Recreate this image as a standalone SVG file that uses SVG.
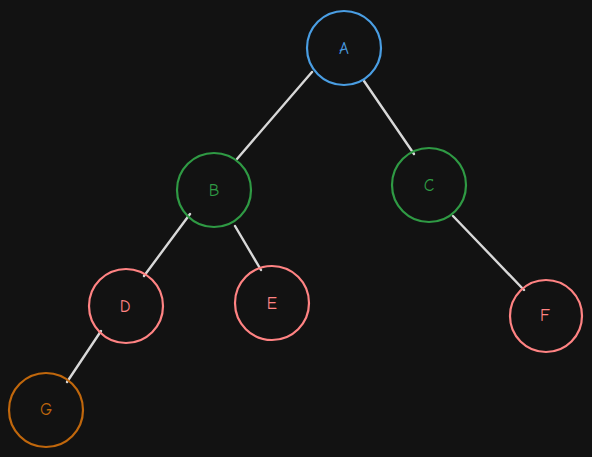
<svg xmlns="http://www.w3.org/2000/svg" width="592" height="457" viewBox="0 0 592 457">
<style>
.n{fill:none;stroke-width:2.2}
.t{font-family:"Comic Neue","Liberation Sans",sans-serif;font-size:17px;text-anchor:middle;dominant-baseline:central}
.e{stroke:#d8d8d8;stroke-width:2.4;stroke-linecap:round;fill:none}
</style>
<rect width="592" height="457" fill="#121212"/>
<g id="edges">
<line class="e" x1="312" y1="72" x2="237" y2="159"/>
<line class="e" x1="364" y1="81" x2="414" y2="154"/>
<line class="e" x1="190" y1="214" x2="144" y2="276"/>
<line class="e" x1="235" y1="226" x2="261" y2="270"/>
<line class="e" x1="453" y1="216" x2="524" y2="290"/>
<line class="e" x1="101" y1="331" x2="67" y2="382"/>
</g>
<g id="A"><circle class="n" cx="344" cy="48" r="37" stroke="#4a9ee3"/><text class="t" x="344" y="48" fill="#4a9ee3">A</text></g>
<g id="B"><circle class="n" cx="214" cy="190" r="37" stroke="#2f9a44"/><text class="t" x="214" y="190" fill="#2f9a44">B</text></g>
<g id="C"><circle class="n" cx="429" cy="185" r="37" stroke="#2f9a44"/><text class="t" x="429" y="185" fill="#2f9a44">C</text></g>
<g id="D"><circle class="n" cx="126" cy="306" r="37" stroke="#ff8383"/><text class="t" x="125" y="306" fill="#ff8383">D</text></g>
<g id="E"><circle class="n" cx="272" cy="303" r="37" stroke="#ff8383"/><text class="t" x="272" y="303" fill="#ff8383">E</text></g>
<g id="F"><circle class="n" cx="546" cy="316" r="36" stroke="#ff8383"/><text class="t" x="545" y="315" fill="#ff8383">F</text></g>
<g id="G"><circle class="n" cx="46" cy="410" r="37" stroke="#c0670c"/><text class="t" x="46" y="409" fill="#c0670c">G</text></g>
</svg>
